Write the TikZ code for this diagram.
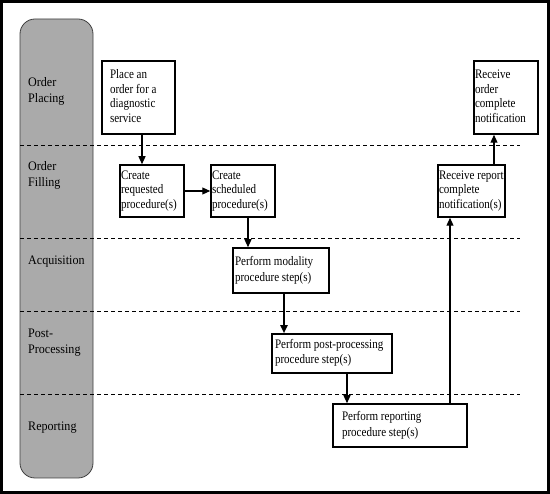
\documentclass[tikz,border=0pt]{standalone}
\usepackage{fontspec}
\setmainfont{Liberation Serif}
\newfontfamily\boxfont{Liberation Serif}[FakeStretch=0.85]
\newfontfamily\lanefont{Liberation Serif}[FakeStretch=0.93]
\usetikzlibrary{arrows.meta}
\definecolor{lanegray}{RGB}{170,170,170}
\newcommand{\boxtext}[2]{\makebox[#1][l]{\begin{tabular}{@{}l@{}}#2\end{tabular}}}
\begin{document}
\begin{tikzpicture}[x=1pt,y=-1pt,
  box/.style={draw=black, line width=1.5pt, inner ysep=0pt, font=\boxfont\fontsize{13}{14.6}\selectfont},
  lanelabel/.style={anchor=west, align=left, inner sep=0pt, font=\lanefont\fontsize{13}{16}\selectfont},
  arr/.style={-{Triangle[length=8pt,width=7pt]}, line width=1.2pt},
  lanesep/.style={dashed, dash pattern=on 4pt off 3pt, line width=0.8pt}]
\useasboundingbox (0,0) rectangle (550,494);
\fill[black] (0,0) rectangle (550,494);
\fill[white] (3,3) rectangle (546.5,491);
% lane column
\filldraw[fill=lanegray, draw=black!75, line width=0.8pt, rounded corners=15pt] (20,19) rectangle (93,478);
% lane separators
\foreach \yy in {145,238,311,394} \draw[lanesep] (20,\yy) -- (520,\yy);
% lane labels
\node[lanelabel] (l1) at (28,91.5) {Order\\Placing};
\node[lanelabel] (l2) at (28,175) {Order\\Filling};
\node[lanelabel] (l3) at (28,262) {Acquisition};
\node[lanelabel] (l4) at (28,342.5) {Post-\\Processing};
\node[lanelabel] (l5) at (28,428) {Reporting};
% boxes
\node[box, inner xsep=8pt, minimum height=73pt] (b1) at (138.5,97.5) {\boxtext{57pt}{Place an\\order for a\\diagnostic\\service}};
\node[box, inner xsep=1pt, minimum height=52pt] (b2) at (152,191) {\boxtext{62pt}{Create\\requested\\procedure(s)}};
\node[box, inner xsep=1pt, minimum height=52pt] (b3) at (243,191) {\boxtext{62pt}{Create\\scheduled\\procedure(s)}};
\node[box, inner xsep=2pt, minimum height=45pt, font=\boxfont\fontsize{13}{16}\selectfont] (b4) at (281,270.5) {\boxtext{92pt}{Perform modality\\procedure step(s)}};
\node[box, inner xsep=3pt, minimum height=39pt, font=\boxfont\fontsize{13}{15}\selectfont] (b5) at (332,353.5) {\boxtext{114pt}{Perform post-processing\\procedure step(s)}};
\node[box, inner xsep=9pt, minimum height=43pt, font=\boxfont\fontsize{13}{16}\selectfont] (b6) at (400,425.5) {\boxtext{116pt}{Perform reporting\\procedure step(s)}};
\node[box, inner xsep=1pt, minimum height=52pt] (b7) at (471.5,191) {\boxtext{65pt}{Receive report\\complete\\notification(s)}};
\node[box, inner xsep=1pt, minimum height=73pt] (b8) at (506,97.5) {\boxtext{62pt}{Receive\\order\\complete\\notification}};
% x positions for connectors
\coordinate (x142) at (142,0);
\coordinate (x248) at (248,0);
\coordinate (x284) at (284,0);
\coordinate (x347) at (347,0);
\coordinate (x450) at (450,0);
\coordinate (x494) at (494,0);
% connectors
\draw[arr] (b1.south -| x142) -- (b2.north -| x142);
\draw[arr] (b2.east) -- (b3.west);
\draw[arr] (b3.south -| x248) -- (b4.north -| x248);
\draw[arr, line width=2pt] (b4.south -| x284) -- (b5.north -| x284);
\draw[arr] (b5.south -| x347) -- (b6.north -| x347);
\draw[arr] (b6.north -| x450) -- (b7.south -| x450);
\draw[arr] (b7.north -| x494) -- (b8.south -| x494);
\end{tikzpicture}
\end{document}
